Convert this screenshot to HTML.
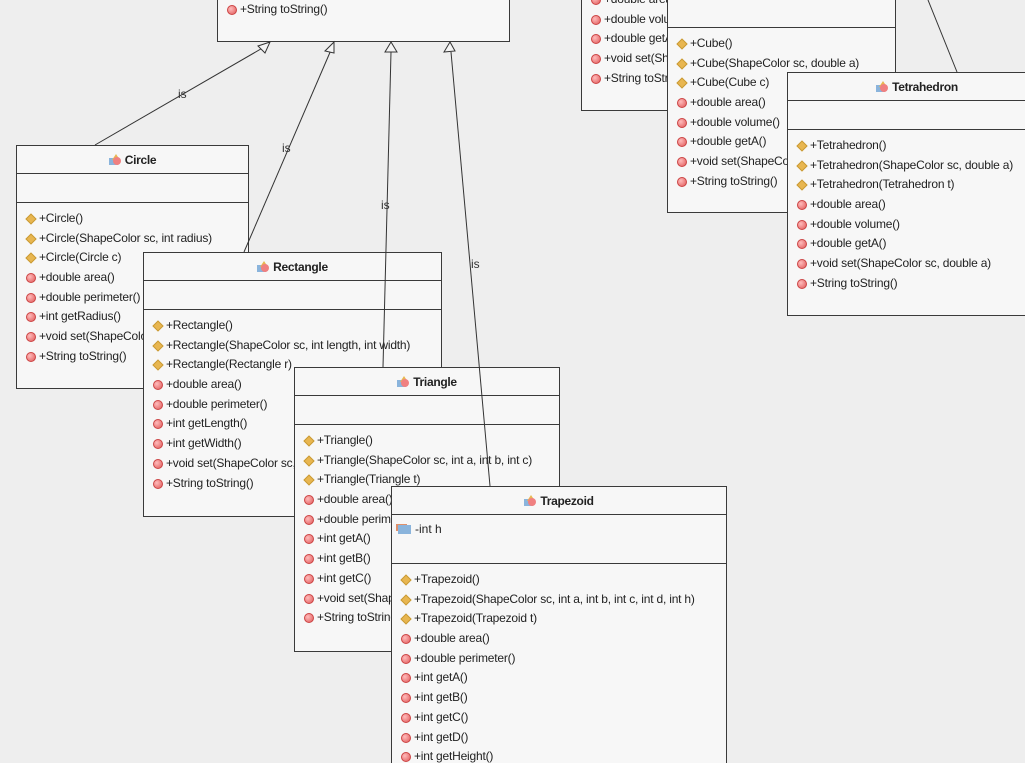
<!DOCTYPE html>
<html><head><meta charset="utf-8">
<style>
html{margin:0;padding:0;width:1025px;height:763px;overflow:hidden}
body{margin:0;padding:0;width:1025px;height:763px;background:#eeeeee;position:relative;overflow:hidden;font-family:"Liberation Sans",sans-serif;font-size:12px;color:#222}
.b{position:absolute;background:#f7f7f7;border:1px solid #3a3a3a;box-sizing:border-box;overflow:hidden}
.h{height:28px;border-bottom:1px solid #3a3a3a;box-sizing:border-box;text-align:center;font-weight:bold;line-height:28px;letter-spacing:-0.3px}
.a{height:29px;border-bottom:1px solid #3a3a3a;box-sizing:border-box;position:relative}
.ms{padding-top:6px}
.r{position:relative;height:19.7px;line-height:19.7px;padding-left:22px;white-space:nowrap;letter-spacing:-0.2px}
.r.m:before{content:"";position:absolute;left:9px;top:5px;width:8px;height:8px;border-radius:50%;background:radial-gradient(circle at 35% 35%,#fbb,#e05a5a);border:0.5px solid #c44}
.r.c:before{content:"";position:absolute;left:10px;top:6px;width:6px;height:6px;background:#e8b650;transform:rotate(45deg);border:0.5px solid #c99a35}
.ic{display:inline-block;width:13px;height:12px;vertical-align:-2px;margin-right:3px;position:relative}
.ic:before{content:"";position:absolute;left:0;top:4px;width:9px;height:7px;background:#8ab4dc}
.ic:after{content:"";position:absolute;left:4px;top:3px;width:8px;height:8px;border-radius:50%;background:#f08080}
.ic i{position:absolute;left:3px;top:0;width:0;height:0;border-left:4px solid transparent;border-right:4px solid transparent;border-bottom:6px solid #e8b650}
svg{position:absolute;left:0;top:0}
</style></head><body>

<div class="b" style="left:217px;top:-60px;width:293px;height:102px">
<div style="position:absolute;top:59px;width:100%"><div class="r m">+String toString()</div></div>
</div>

<div class="b" style="left:581px;top:-60px;width:100px;height:171px">
<div style="position:absolute;top:49px;width:100%">
<div class="r m">+double area()</div>
<div class="r m">+double volume()</div>
<div class="r m">+double getA()</div>
<div class="r m">+void set(ShapeColor sc)</div>
<div class="r m">+String toString()</div>
</div></div>

<div class="b" style="left:667px;top:-30px;width:229px;height:243px">
<div style="height:57px;border-bottom:1px solid #3a3a3a;box-sizing:border-box"></div>
<div class="ms">
<div class="r c">+Cube()</div>
<div class="r c">+Cube(ShapeColor sc, double a)</div>
<div class="r c">+Cube(Cube c)</div>
<div class="r m">+double area()</div>
<div class="r m">+double volume()</div>
<div class="r m">+double getA()</div>
<div class="r m">+void set(ShapeColor sc, double a)</div>
<div class="r m">+String toString()</div>
</div></div>

<div class="b" style="left:787px;top:72px;width:260px;height:244px">
<div class="h"><span class="ic"><i></i></span>Tetrahedron</div><div class="a"></div>
<div class="ms">
<div class="r c">+Tetrahedron()</div>
<div class="r c">+Tetrahedron(ShapeColor sc, double a)</div>
<div class="r c">+Tetrahedron(Tetrahedron t)</div>
<div class="r m">+double area()</div>
<div class="r m">+double volume()</div>
<div class="r m">+double getA()</div>
<div class="r m">+void set(ShapeColor sc, double a)</div>
<div class="r m">+String toString()</div>
</div></div>

<div class="b" style="left:16px;top:145px;width:233px;height:244px">
<div class="h"><span class="ic"><i></i></span>Circle</div><div class="a"></div>
<div class="ms">
<div class="r c">+Circle()</div>
<div class="r c">+Circle(ShapeColor sc, int radius)</div>
<div class="r c">+Circle(Circle c)</div>
<div class="r m">+double area()</div>
<div class="r m">+double perimeter()</div>
<div class="r m">+int getRadius()</div>
<div class="r m">+void set(ShapeColor sc, int radius)</div>
<div class="r m">+String toString()</div>
</div></div>

<div class="b" style="left:143px;top:252px;width:299px;height:265px">
<div class="h"><span class="ic"><i></i></span>Rectangle</div><div class="a"></div>
<div class="ms">
<div class="r c">+Rectangle()</div>
<div class="r c">+Rectangle(ShapeColor sc, int length, int width)</div>
<div class="r c">+Rectangle(Rectangle r)</div>
<div class="r m">+double area()</div>
<div class="r m">+double perimeter()</div>
<div class="r m">+int getLength()</div>
<div class="r m">+int getWidth()</div>
<div class="r m">+void set(ShapeColor sc, int length, int width)</div>
<div class="r m">+String toString()</div>
</div></div>

<div class="b" style="left:294px;top:367px;width:266px;height:285px">
<div class="h"><span class="ic"><i></i></span>Triangle</div><div class="a"></div>
<div class="ms">
<div class="r c">+Triangle()</div>
<div class="r c">+Triangle(ShapeColor sc, int a, int b, int c)</div>
<div class="r c">+Triangle(Triangle t)</div>
<div class="r m">+double area()</div>
<div class="r m">+double perimeter()</div>
<div class="r m">+int getA()</div>
<div class="r m">+int getB()</div>
<div class="r m">+int getC()</div>
<div class="r m">+void set(ShapeColor sc, int a, int b, int c)</div>
<div class="r m">+String toString()</div>
</div></div>

<div class="b" style="left:391px;top:486px;width:336px;height:300px">
<div class="h"><span class="ic"><i></i></span>Trapezoid</div>
<div class="a" style="height:49px"><div style="position:absolute;left:6px;top:6px;line-height:16px;white-space:nowrap"><span style="display:inline-block;width:13px;height:9px;background:#8ab4dc;vertical-align:-1px;margin-right:4px;box-shadow:-3px -2px 0 -1px #e0906a"></span>-int h</div></div>
<div class="ms">
<div class="r c">+Trapezoid()</div>
<div class="r c">+Trapezoid(ShapeColor sc, int a, int b, int c, int d, int h)</div>
<div class="r c">+Trapezoid(Trapezoid t)</div>
<div class="r m">+double area()</div>
<div class="r m">+double perimeter()</div>
<div class="r m">+int getA()</div>
<div class="r m">+int getB()</div>
<div class="r m">+int getC()</div>
<div class="r m">+int getD()</div>
<div class="r m">+int getHeight()</div>
</div></div>

<svg width="1025" height="763" viewBox="0 0 1025 763">
<g stroke="#333" stroke-width="1" fill="none">
<line x1="95" y1="145" x2="266" y2="46"/>
<line x1="244" y1="252" x2="331" y2="50"/>
<line x1="383" y1="367" x2="391" y2="52"/>
<line x1="490" y1="486" x2="451" y2="52"/>
<line x1="928" y1="0" x2="957" y2="72"/>
</g>
<g stroke="#333" stroke-width="1" fill="#f4f4f4">
<polygon points="270,42 258,46 265,53"/>
<polygon points="334,42 325,51 334,53"/>
<polygon points="391,42 385,52 397,52"/>
<polygon points="450,42 444,52 455,51"/>
</g>
<g font-family="Liberation Sans, sans-serif" font-size="12" fill="#333">
<text x="178" y="98">is</text>
<text x="282" y="152">is</text>
<text x="381" y="209">is</text>
<text x="471" y="268">is</text>
</g>
</svg>
</body></html>
